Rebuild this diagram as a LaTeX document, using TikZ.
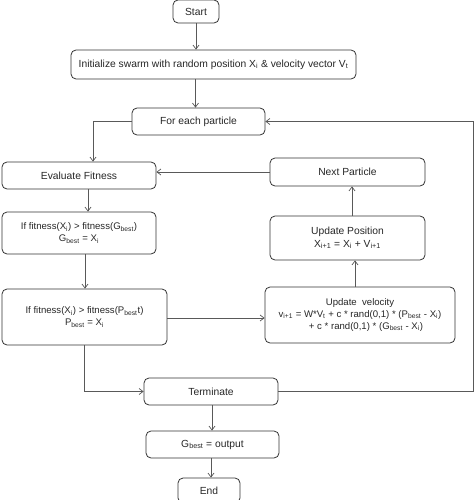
\documentclass[tikz,border=0pt]{standalone}
\usepackage{fontspec}
\setmainfont{Liberation Sans}
\usetikzlibrary{arrows.meta,calc}
\newcommand\sbs[1]{\textsubscript{#1}}
\begin{document}
\begin{tikzpicture}[x=1pt,y=-1pt,
  box/.style={draw=black!80,line width=0.8pt,rounded corners=5pt,align=center,
    inner sep=0pt,font=\fontsize{10.3}{12.5}\selectfont,text=black!85},
  small/.style={font=\fontsize{9.6}{11.8}\selectfont},
  conn/.style={draw=black!65,line width=0.7pt,-{Straight Barb[length=4pt,width=6pt]}},
  plain/.style={draw=black!65,line width=0.7pt}]
\useasboundingbox (0,0) rectangle (474,500);
\node[box,minimum width=46,minimum height=23] (start) at (196,11.5) {Start};
\node[box,minimum width=285,minimum height=29] (init) at (213.5,64.5)
  {Initialize swarm with random position X\sbs{i} \& velocity vector V\sbs{t}};
\node[box,minimum width=133,minimum height=27] (each) at (198.5,121.5) {For each particle};
\node[box,minimum width=154,minimum height=27] (eval) at (79,175.5) {Evaluate Fitness};
\node[box,minimum width=155,minimum height=28] (next) at (347.5,172) {Next Particle};
\node[box,small,minimum width=154,minimum height=42] (ifg) at (79,233)
  {If fitness(X\sbs{i}) > fitness(G\sbs{best})\\G\sbs{best} = X\sbs{i}};
\node[box,small,minimum width=165,minimum height=56] (ifp) at (84.5,317)
  {If fitness(X\sbs{i}) > fitness(P\sbs{best}t)\\P\sbs{best} = X\sbs{i}};
\node[box,minimum width=155,minimum height=44] (upos) at (347.5,238)
  {Update Position\\X\sbs{i+1} = X\sbs{i} + V\sbs{i+1}};
\node[box,small,minimum width=190,minimum height=56] (uvel) at (360,315)
  {Update\ \ velocity\\v\sbs{i+1} = W*V\sbs{t} + c * rand(0,1) * (P\sbs{best} - X\sbs{i})\\
   \hspace*{12pt}+ c * rand(0,1) * (G\sbs{best} - X\sbs{i})};
\node[box,minimum width=134,minimum height=27] (term) at (211,391.5) {Terminate};
\node[box,minimum width=133,minimum height=27] (gout) at (212.5,444.5) {G\sbs{best} = output};
\node[box,minimum width=62,minimum height=25] (end) at (209,490.5) {End};
\coordinate (xa) at (93,0);
\coordinate (xb) at (88,0);
\coordinate (xc) at (85,0);
\coordinate (xd) at (84,0);
\coordinate (xe) at (355,0);
\coordinate (xf) at (352,0);
\coordinate (xg) at (212,0);
\coordinate (xh) at (211,0);
\coordinate (xr) at (473,0);
\coordinate (ym) at (0,318);
\draw[conn] (start.south) -- (start.south |- init.north);
\draw[conn] ([xshift=-18]init.south) -- ([xshift=-18]init.south |- each.north);
\draw[conn] (each.west) -| (xa |- eval.north);
\draw[conn] (next.west) -- (next.west -| eval.east);
\draw[conn] (xb |- eval.south) -- (xb |- ifg.north);
\draw[conn] (xc |- ifg.south) -- (xc |- ifp.north);
\draw[conn] (ifp.east |- ym) -- (uvel.west |- ym);
\draw[conn] (xe |- uvel.north) -- (xe |- upos.south);
\draw[conn] (xf |- upos.north) -- (xf |- next.south);
\draw[conn] (xd |- ifp.south) |- (term.west);
\draw[conn] (term.east) -- (xr |- term.east) -- (xr |- each.east) -- (each.east);
\draw[conn] (xg |- term.south) -- (xg |- gout.north);
\draw[conn] (xh |- gout.south) -- (xh |- end.north);
\end{tikzpicture}
\end{document}
